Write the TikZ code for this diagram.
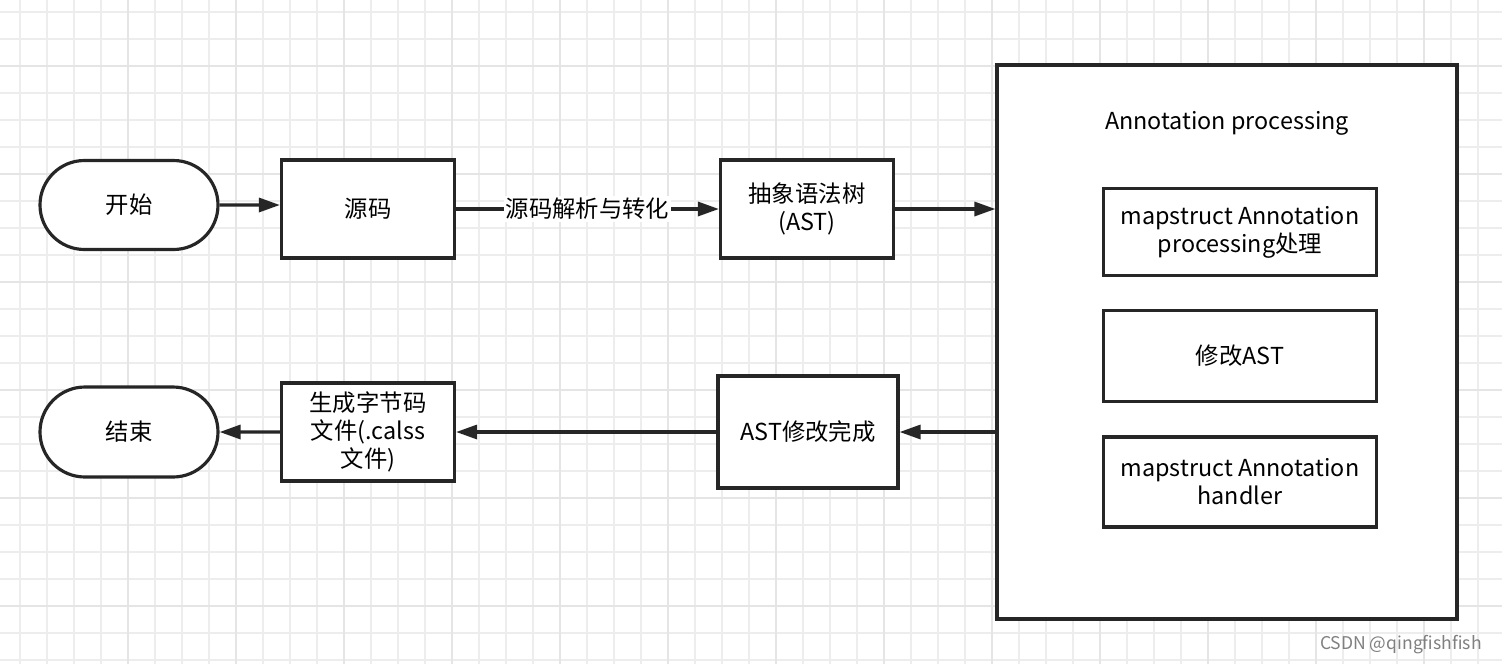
\documentclass[tikz,border=0pt]{standalone}
\usepackage{fontspec}
\setmainfont{Noto Sans CJK SC}
\usetikzlibrary{arrows.meta,shapes.misc}
\begin{document}
\begin{tikzpicture}[x=0.02cm,y=-0.02cm,
  box/.style={draw=black!85,line width=1.8pt,fill=white,align=center,font=\fontsize{13.3}{16}\selectfont,inner sep=0pt},
  term/.style={box,rounded rectangle},
  arr/.style={draw=black!85,line width=1.8pt,-{Triangle[length=12pt,width=8pt]}}]
\useasboundingbox (0,0) rectangle (1502,664);
\fill[white] (0,0) rectangle (1502,664);
\foreach \x in {20,47,...,1502} \draw[black!7,line width=0.6pt] (\x,0) -- (\x,664);
\foreach \y in {12,39,...,664} \draw[black!7,line width=0.6pt] (0,\y) -- (1502,\y);
\foreach \x in {128,236,...,1502} \draw[black!10,line width=0.9pt] (\x,0) -- (\x,664);
\foreach \y in {66,174,...,664} \draw[black!10,line width=0.9pt] (0,\y) -- (1502,\y);
\node[term,minimum width=178*0.02cm,minimum height=89*0.02cm] (start) at (129,205) {开始};
\node[box,minimum width=173*0.02cm,minimum height=98*0.02cm] (src) at (368,209) {源码};
\node[box,minimum width=173*0.02cm,minimum height=98*0.02cm] (ast) at (807,209) {抽象语法树\\(AST)};
\node[box,minimum width=460*0.02cm,minimum height=554*0.02cm] (big) at (1227,342) {};
\node[font=\fontsize{13.3}{16}\selectfont] (title) at (1227,123) {Annotation processing};
\node[box,minimum width=273*0.02cm,minimum height=87*0.02cm] (p1) at (1240,232) {mapstruct Annotation\\processing处理};
\node[box,minimum width=273*0.02cm,minimum height=91*0.02cm] (p2) at (1240,356) {修改AST};
\node[box,minimum width=273*0.02cm,minimum height=90*0.02cm] (p3) at (1240,482) {mapstruct Annotation\\handler};
\node[box,minimum width=180*0.02cm,minimum height=112*0.02cm] (done) at (808,432) {AST修改完成};
\node[box,minimum width=173*0.02cm,minimum height=98*0.02cm] (gen) at (368,432) {生成字节码\\文件(.calss\\文件)};
\node[term,minimum width=178*0.02cm,minimum height=90*0.02cm] (end) at (129,432) {结束};
\draw[arr] (start) -- (src.west|-start);
\draw[arr] (src) -- node[fill=white,inner sep=1pt,font=\fontsize{13.3}{16}\selectfont]{源码解析与转化} (ast);
\draw[arr] (ast) -- (big.west|-ast);
\draw[arr] (big.west|-done) -- (done);
\draw[arr] (done) -- (gen);
\draw[arr] (gen) -- (end);
\node[text=black!50,font=\fontsize{10}{12}\selectfont,anchor=east] (wm) at (1488,645) {CSDN @qingfishfish};
\end{tikzpicture}
\end{document}
